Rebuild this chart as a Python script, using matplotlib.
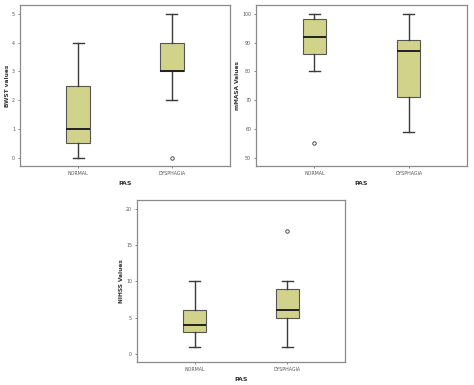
import matplotlib.pyplot as plt

groups = ['NORMAL', 'DYSPHAGIA']

# BWST values
bwst_whislo = [0, 2]
bwst_q1 = [0.5, 3]
bwst_med = [1, 3]
bwst_q3 = [2.5, 4]
bwst_whishi = [4, 5]
bwst_fliers = [[], [0]]

# mMASA values
mmasa_whislo = [80, 59]
mmasa_q1 = [86, 71]
mmasa_med = [92, 87]
mmasa_q3 = [98, 91]
mmasa_whishi = [100, 100]
mmasa_fliers = [[55], []]

# NIHSS values
nihss_whislo = [1, 1]
nihss_q1 = [3, 5]
nihss_med = [4, 6]
nihss_q3 = [6, 9]
nihss_whishi = [10, 10]
nihss_fliers = [[], [17]]

box_color = '#d2d38a'
frame_color = '#8a8a8a'


def make_stats(lo, q1, med, q3, hi, fl):
    return [dict(whislo=lo[i], q1=q1[i], med=med[i], q3=q3[i], whishi=hi[i], fliers=fl[i])
            for i in range(len(groups))]


def draw(ax, stats, ylabel, yticks, ylim):
    ax.bxp(stats, positions=[1, 2], widths=0.25, patch_artist=True,
           boxprops=dict(facecolor=box_color, edgecolor='#555555', linewidth=0.8),
           medianprops=dict(color='#222222', linewidth=1.4),
           whiskerprops=dict(color='#3a3a3a', linewidth=1.0),
           capprops=dict(color='#3a3a3a', linewidth=1.0),
           flierprops=dict(marker='o', markersize=2.5, markerfacecolor='white',
                           markeredgecolor='#333333', markeredgewidth=0.6),
           capwidths=0.12)
    ax.set_xlim(0.38, 2.62)
    ax.set_ylim(*ylim)
    ax.set_yticks(yticks)
    ax.set_yticklabels([str(t) for t in yticks])
    ax.set_xticks([1, 2])
    ax.set_xticklabels(groups)
    ax.tick_params(labelsize=3.4, length=1.5, width=0.5, colors='#555555', pad=2)
    for s in ax.spines.values():
        s.set_color(frame_color)
        s.set_linewidth(0.9)
    ax.set_ylabel(ylabel, fontsize=4.2, fontweight='bold', labelpad=1.5, color='#333333')
    ax.set_xlabel('PAS', fontsize=4.5, fontweight='bold', labelpad=4, color='#333333')


fig = plt.figure(figsize=(4.74, 3.85), dpi=100)

ax1 = fig.add_axes([20 / 474, 1 - 166 / 385, 210 / 474, 161 / 385])
draw(ax1, make_stats(bwst_whislo, bwst_q1, bwst_med, bwst_q3, bwst_whishi, bwst_fliers),
     'BWST values', [0, 1, 2, 3, 4, 5], (-0.28, 5.3))

ax2 = fig.add_axes([256 / 474, 1 - 166 / 385, 211 / 474, 161 / 385])
draw(ax2, make_stats(mmasa_whislo, mmasa_q1, mmasa_med, mmasa_q3, mmasa_whishi, mmasa_fliers),
     'mMASA Values', [50, 60, 70, 80, 90, 100], (47.2, 103))

ax3 = fig.add_axes([137 / 474, 1 - 362 / 385, 208 / 474, 162 / 385])
draw(ax3, make_stats(nihss_whislo, nihss_q1, nihss_med, nihss_q3, nihss_whishi, nihss_fliers),
     'NIHSS Values', [0, 5, 10, 15, 20], (-1.1, 21.2))

fig.savefig('out.png', dpi=100)
